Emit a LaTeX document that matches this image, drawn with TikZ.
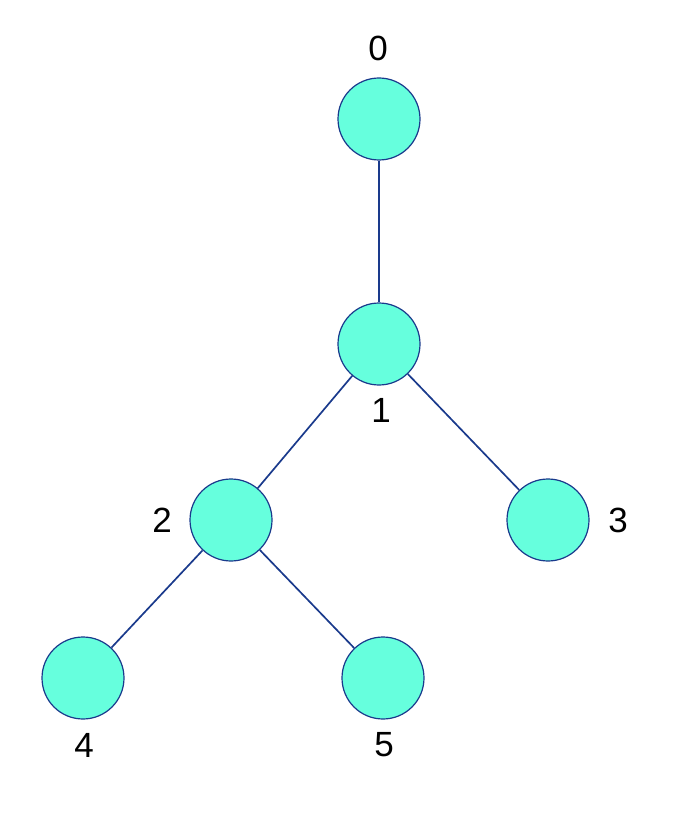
\documentclass[tikz,border=0pt]{standalone}
\usepackage{fontspec}
\setmainfont{Liberation Sans}
\definecolor{nodefill}{HTML}{66FFDD}
\definecolor{edgecol}{HTML}{1A3A8C}
\begin{document}
\begin{tikzpicture}[x=1pt,y=-1pt,
  vtx/.style={circle,draw=edgecol,fill=nodefill,line width=1.2pt,minimum size=82pt,inner sep=0pt},
  lbl/.style={font=\fontsize{35}{40}\selectfont,inner sep=0pt,text=black},
  edge/.style={draw=edgecol,line width=1.7pt}]
\useasboundingbox (0,0) rectangle (676,818);
\node[vtx] (n0) at (379,119) {};
\node[vtx] (n1) at (379,344) {};
\node[vtx] (n2) at (231,520) {};
\node[vtx] (n3) at (548,520) {};
\node[vtx] (n4) at (83,678) {};
\node[vtx] (n5) at (383,678) {};
\node[lbl] (l0) at (378,48) {0};
\node[lbl] (l1) at (381,410) {1};
\node[lbl] (l2) at (162,520) {2};
\node[lbl] (l3) at (618,520) {3};
\node[lbl] (l4) at (84,745) {4};
\node[lbl] (l5) at (384,745) {5};
\path[edge] (n0) -- (n1);
\path[edge] (n1) -- (n2);
\path[edge] (n1) -- (n3);
\path[edge] (n2) -- (n4);
\path[edge] (n2) -- (n5);
\end{tikzpicture}
\end{document}
